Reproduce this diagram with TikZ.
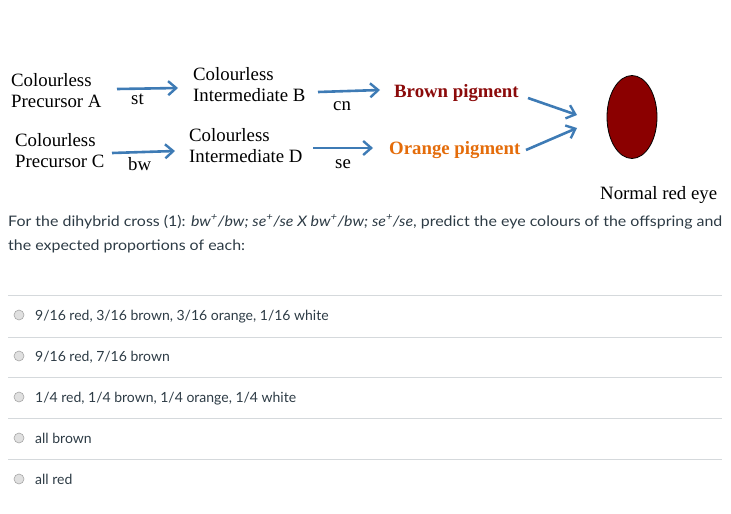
\documentclass[tikz,border=0pt]{standalone}
\usepackage{fontspec}
\setmainfont{Liberation Serif}
\newfontfamily\lato{Lato}
\newfontfamily\latoc[FakeStretch=1.1]{Lato}
\usetikzlibrary{arrows.meta,shapes.geometric}
\definecolor{arrblue}{HTML}{3E7BB5}
\definecolor{brownp}{HTML}{8B0A0A}
\definecolor{orangep}{HTML}{E46C0A}
\definecolor{eyered}{HTML}{8B0000}
\definecolor{canvas}{HTML}{2D3B45}
\definecolor{rule}{HTML}{D5D9DC}
\tikzset{
  lbl/.style={inner sep=0pt, font=\fontsize{18.8}{21}\selectfont, align=left, anchor=base west},
  enz/.style={inner sep=0pt, font=\fontsize{18.8}{21}\selectfont, anchor=base west},
  pig/.style={inner sep=0pt, font=\fontsize{18.8}{21}\selectfont\bfseries, anchor=base west},
  arr/.style={draw=arrblue, line width=2.6pt, -{Straight Barb[length=8pt,width=14pt,line width=2.4pt]}},
  q/.style={inner sep=0pt, text=canvas, font=\latoc\fontsize{14.5}{24}\selectfont, align=left, anchor=base west},
  opt/.style={inner sep=0pt, text=canvas, font=\lato\fontsize{14}{16}\selectfont, anchor=base west},
  radio/.style={circle, draw=black!35, fill=black!12, minimum size=10pt, inner sep=0pt, line width=0.6pt},
  sep/.style={draw=rule, line width=0.8pt}
}
\begin{document}
\begin{tikzpicture}[x=1pt,y=-1pt]
\useasboundingbox (0,0) rectangle (731,514);
% diagram
\node[lbl] (pa) at (11,107) {Colourless\\Precursor A};
\node[lbl] (ib) at (193,101) {Colourless\\Intermediate B};
\node[lbl] (pc) at (15,167) {Colourless\\Precursor C};
\node[lbl] (id) at (189,162) {Colourless\\Intermediate D};
\node[pig, text=brownp] (bp) at (394,97) {Brown pigment};
\node[pig, text=orangep] (op) at (389,154) {Orange pigment};
\node[enz] (st) at (131,104) {st};
\node[enz] (cn) at (333,110) {cn};
\node[enz] (bw) at (128,170) {bw};
\node[enz] (se) at (335,168) {se};
\node[ellipse, draw=black, line width=0.8pt, fill=eyered, minimum width=50pt, minimum height=83pt, inner sep=0pt] (eye) at (632,117) {};
\node[enz] (nre) at (600,199) {Normal red eye};
\coordinate (a1s) at (117,89); \coordinate (a1e) at (178,88);
\coordinate (a2s) at (318,92); \coordinate (a2e) at (380,90);
\coordinate (a3s) at (112,153); \coordinate (a3e) at (175,151);
\coordinate (a4s) at (313,148); \coordinate (a4e) at (373,148);
\coordinate (a5s) at (528,98); \coordinate (a5e) at (577,115);
\coordinate (a6s) at (526,150); \coordinate (a6e) at (577,128);
\draw[arr] (a1s) -- (a1e);
\draw[arr] (a2s) -- (a2e);
\draw[arr] (a3s) -- (a3e);
\draw[arr] (a4s) -- (a4e);
\draw[arr] (a5s) -- (a5e);
\draw[arr] (a6s) -- (a6e);
% question
\node[q] (qt) at (8,250) {For the dihybrid cross (1): \textit{bw\textsuperscript{+}/bw; se\textsuperscript{+}/se X bw\textsuperscript{+}/bw; se\textsuperscript{+}/se}, predict the eye colours of the offspring and\\the expected proportions of each:};
% rules
\coordinate (l1a) at (8,295); \coordinate (l1b) at (722,295);
\coordinate (l2a) at (8,337); \coordinate (l2b) at (722,337);
\coordinate (l3a) at (8,377); \coordinate (l3b) at (722,377);
\coordinate (l4a) at (8,418); \coordinate (l4b) at (722,418);
\coordinate (l5a) at (8,459); \coordinate (l5b) at (722,459);
\draw[sep] (l1a) -- (l1b);
\draw[sep] (l2a) -- (l2b);
\draw[sep] (l3a) -- (l3b);
\draw[sep] (l4a) -- (l4b);
\draw[sep] (l5a) -- (l5b);
% options
\node[radio] (r1) at (19,315) {};
\node[radio] (r2) at (19,356) {};
\node[radio] (r3) at (19,397) {};
\node[radio] (r4) at (19,438) {};
\node[radio] (r5) at (19,479) {};
\node[opt] (o1) at (35,320) {9/16 red, 3/16 brown, 3/16 orange, 1/16 white};
\node[opt] (o2) at (35,361) {9/16 red, 7/16 brown};
\node[opt] (o3) at (35,402) {1/4 red, 1/4 brown, 1/4 orange, 1/4 white};
\node[opt] (o4) at (35,443) {all brown};
\node[opt] (o5) at (35,484) {all red};
\end{tikzpicture}
\end{document}
